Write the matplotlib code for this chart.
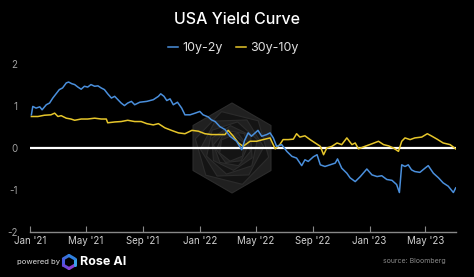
import numpy as np
import pandas as pd
import matplotlib
matplotlib.use("Agg")
import matplotlib.pyplot as plt
from matplotlib.patches import Polygon

# data
dates_2s10s = ["2021-01-04", "2021-01-07", "2021-01-14", "2021-01-22", "2021-01-27", "2021-02-05",
               "2021-02-12", "2021-02-19", "2021-02-26", "2021-03-05", "2021-03-12", "2021-03-20",
               "2021-03-25", "2021-04-01", "2021-04-07", "2021-04-14", "2021-04-21", "2021-04-28",
               "2021-05-05", "2021-05-12", "2021-05-20", "2021-05-27", "2021-06-03", "2021-06-10",
               "2021-06-17", "2021-06-25", "2021-07-02", "2021-07-09", "2021-07-16", "2021-07-23",
               "2021-07-30", "2021-08-07", "2021-08-14", "2021-08-25", "2021-09-09", "2021-09-23",
               "2021-10-04", "2021-10-09", "2021-10-16", "2021-10-22", "2021-10-29", "2021-11-05",
               "2021-11-14", "2021-11-23", "2021-11-30", "2021-12-11", "2021-12-22", "2022-01-01",
               "2022-01-08", "2022-01-19", "2022-01-26", "2022-02-03", "2022-02-13", "2022-02-24",
               "2022-03-07", "2022-03-21", "2022-04-01", "2022-04-08", "2022-04-15", "2022-04-22",
               "2022-04-26", "2022-05-06", "2022-05-14", "2022-05-25", "2022-06-01", "2022-06-08",
               "2022-06-15", "2022-06-26", "2022-07-07", "2022-07-18", "2022-07-28", "2022-08-08",
               "2022-08-15", "2022-08-22", "2022-09-02", "2022-09-10", "2022-09-17", "2022-09-27",
               "2022-10-08", "2022-10-19", "2022-10-24", "2022-11-02", "2022-11-13", "2022-11-20",
               "2022-12-01", "2022-12-12", "2022-12-26", "2023-01-06", "2023-01-17", "2023-01-27",
               "2023-02-07", "2023-02-18", "2023-02-28", "2023-03-06", "2023-03-11", "2023-03-18",
               "2023-03-25", "2023-04-01", "2023-04-08", "2023-04-19", "2023-04-30", "2023-05-07",
               "2023-05-18", "2023-05-29", "2023-06-08", "2023-06-19", "2023-06-30", "2023-07-05"]
vals_2s10s = [0.79, 0.99, 0.95, 0.98, 0.91, 1.03,
              1.07, 1.19, 1.29, 1.39, 1.43, 1.55,
              1.57, 1.53, 1.51, 1.45, 1.40, 1.47,
              1.45, 1.51, 1.47, 1.48, 1.43, 1.39,
              1.29, 1.19, 1.23, 1.15, 1.07, 1.01,
              1.07, 1.11, 1.03, 1.09, 1.11, 1.15,
              1.23, 1.29, 1.23, 1.13, 1.17, 1.03,
              1.09, 0.95, 0.79, 0.79, 0.83, 0.87,
              0.79, 0.74, 0.67, 0.63, 0.51, 0.44,
              0.28, 0.16, -0.04, 0.20, 0.36, 0.28,
              0.32, 0.42, 0.28, 0.32, 0.36, 0.24,
              0.04, 0.08, -0.08, -0.20, -0.24, -0.42,
              -0.28, -0.32, -0.21, -0.16, -0.40, -0.44,
              -0.40, -0.36, -0.26, -0.48, -0.60, -0.71,
              -0.80, -0.68, -0.50, -0.64, -0.68, -0.66,
              -0.75, -0.77, -0.87, -1.06, -0.40, -0.44,
              -0.40, -0.52, -0.56, -0.58, -0.48, -0.42,
              -0.60, -0.71, -0.83, -0.91, -1.06, -0.95]

dates_10s30s = ["2021-01-04", "2021-01-18", "2021-02-01", "2021-02-15", "2021-02-23", "2021-03-02",
                "2021-03-09", "2021-03-20", "2021-03-30", "2021-04-07", "2021-04-21", "2021-05-05",
                "2021-05-20", "2021-06-03", "2021-06-14", "2021-06-17", "2021-07-02", "2021-07-16",
                "2021-07-30", "2021-08-14", "2021-08-28", "2021-09-09", "2021-09-23", "2021-10-04",
                "2021-10-18", "2021-11-01", "2021-11-16", "2021-11-30", "2021-12-15", "2021-12-29",
                "2022-01-12", "2022-01-26", "2022-02-10", "2022-02-24", "2022-03-03", "2022-03-14",
                "2022-03-25", "2022-04-04", "2022-04-19", "2022-05-03", "2022-05-17", "2022-06-01",
                "2022-06-12", "2022-06-22", "2022-06-29", "2022-07-10", "2022-07-21", "2022-07-28",
                "2022-08-04", "2022-08-15", "2022-08-26", "2022-09-06", "2022-09-17", "2022-09-24",
                "2022-10-01", "2022-10-12", "2022-10-23", "2022-11-02", "2022-11-13", "2022-11-24",
                "2022-12-01", "2022-12-08", "2022-12-22", "2023-01-06", "2023-01-20", "2023-01-31",
                "2023-02-11", "2023-02-21", "2023-03-04", "2023-03-11", "2023-03-18", "2023-03-29",
                "2023-04-08", "2023-04-23", "2023-05-05", "2023-05-15", "2023-05-26", "2023-06-08",
                "2023-06-23", "2023-07-05"]
vals_10s30s = [0.75, 0.75, 0.78, 0.79, 0.83, 0.75,
               0.77, 0.71, 0.69, 0.66, 0.69, 0.69,
               0.71, 0.69, 0.69, 0.60, 0.62, 0.63,
               0.66, 0.63, 0.63, 0.58, 0.55, 0.58,
               0.48, 0.42, 0.36, 0.34, 0.42, 0.40,
               0.34, 0.32, 0.32, 0.32, 0.42, 0.28,
               0.12, 0.04, 0.16, 0.16, 0.20, 0.24,
               -0.02, 0.08, 0.20, 0.20, 0.21, 0.34,
               0.26, 0.29, 0.20, 0.12, 0.04, -0.16,
               0.00, 0.04, 0.12, 0.08, 0.24, 0.08,
               0.12, -0.02, 0.04, 0.10, 0.16, 0.08,
               0.05, 0.00, -0.08, 0.16, 0.24, 0.20,
               0.24, 0.26, 0.34, 0.28, 0.21, 0.12,
               0.08, -0.02]

tick_dates = ["2021-01-01", "2021-05-01", "2021-09-01", "2022-01-01",
              "2022-05-01", "2022-09-01", "2023-01-01", "2023-05-01"]
tick_labels = ["Jan '21", "May '21", "Sep '21", "Jan '22", "May '22", "Sep '22", "Jan '23", "May '23"]

blue = "#4a8fdc"
yellow = "#e6c62b"
grey = "#a0a0a0"

plt.rcParams['font.family'] = ['Inter', 'DejaVu Sans']

fig = plt.figure(figsize=(4.74, 2.77), dpi=100, facecolor="black")

# watermark hexagon logo behind the plot
wm = fig.add_axes([(232 - 50) / 474, 1 - (148 + 50) / 277, 100 / 474, 100 / 277])
wm.set_xlim(-50, 50)
wm.set_ylim(-50, 50)
wm.set_aspect("equal")
wm.axis("off")
wm.set_facecolor("none")
for i in range(8):
    r = 45 * (0.84 ** i)
    rot = np.radians(90 + i * 16)
    ang = rot + np.arange(6) * np.pi / 3
    pts = np.column_stack([r * np.cos(ang), r * np.sin(ang)])
    fc = "#202020" if i % 2 == 0 else "#141414"
    wm.add_patch(Polygon(pts, closed=True, facecolor=fc, edgecolor="#2c2c2c", lw=0.8))

ax = fig.add_axes([30 / 474, 1 - 232 / 277, 425.7 / 474, 168 / 277])
ax.set_facecolor("none")

d1 = pd.to_datetime(dates_2s10s)
d2 = pd.to_datetime(dates_10s30s)
ax.axhline(0, color="white", lw=1.6, zorder=1)
ax.plot(d1, vals_2s10s, color=blue, lw=1.1, zorder=3, label="10y-2y")
ax.plot(d2, vals_10s30s, color=yellow, lw=1.1, zorder=2, label="30y-10y")

ax.set_xlim(pd.Timestamp("2021-01-01"), pd.Timestamp("2023-07-05"))
ax.set_ylim(-2, 2)
ax.set_yticks([-2, -1, 0, 1, 2])
ax.set_yticklabels(["-2", "-1", "0", "1", "2"])
ax.set_xticks(pd.to_datetime(tick_dates))
ax.set_xticklabels(tick_labels)

for s in ["top", "right", "left"]:
    ax.spines[s].set_visible(False)
ax.spines["bottom"].set_color("#888888")
ax.spines["bottom"].set_linewidth(1.0)
ax.tick_params(axis="x", direction="in", length=4, color="#888888", labelcolor="#d0d0d0",
               labelsize=7, pad=3)
ax.tick_params(axis="y", length=0, labelcolor=grey, labelsize=7, pad=9)

fig.text(0.5, 0.928, "USA Yield Curve", color="white", fontsize=11.5, fontweight=500,
         ha="center", va="center")
leg = fig.legend(loc="center", bbox_to_anchor=(0.492, 0.827), ncol=2, frameon=False,
                 fontsize=9, handlelength=0.8, handletextpad=0.3, columnspacing=1.1,
                 labelcolor="#e0e0e0")

fig.text(0.036, 0.054, "powered by", color="#dddddd", fontsize=5.5, ha="left", va="center")
# small Rose AI logo
lg = fig.add_axes([61 / 474, 1 - 270 / 277, 16 / 474, 16 / 277])
lg.set_xlim(-8, 8)
lg.set_ylim(-8, 8)
lg.set_aspect("equal")
lg.axis("off")
cols = ["#3b6fd8", "#4a5ae0", "#6a48d8", "#8a3fd0", "#3aa0e8", "#2f80e0"]
for k in range(6):
    a0 = np.radians(90 + k * 60)
    a1 = np.radians(150 + k * 60)
    lg.plot([6.5 * np.cos(a0), 6.5 * np.cos(a1)], [6.5 * np.sin(a0), 6.5 * np.sin(a1)],
            color=cols[k], lw=2.2, solid_capstyle="round")
fig.text(0.168, 0.054, "Rose AI", color="white", fontsize=9, fontweight="bold", ha="left", va="center")
fig.text(0.941, 0.058, "source: Bloomberg", color="#888888", fontsize=5, ha="right", va="center")

fig.savefig("out.png", dpi=100, facecolor="black")
